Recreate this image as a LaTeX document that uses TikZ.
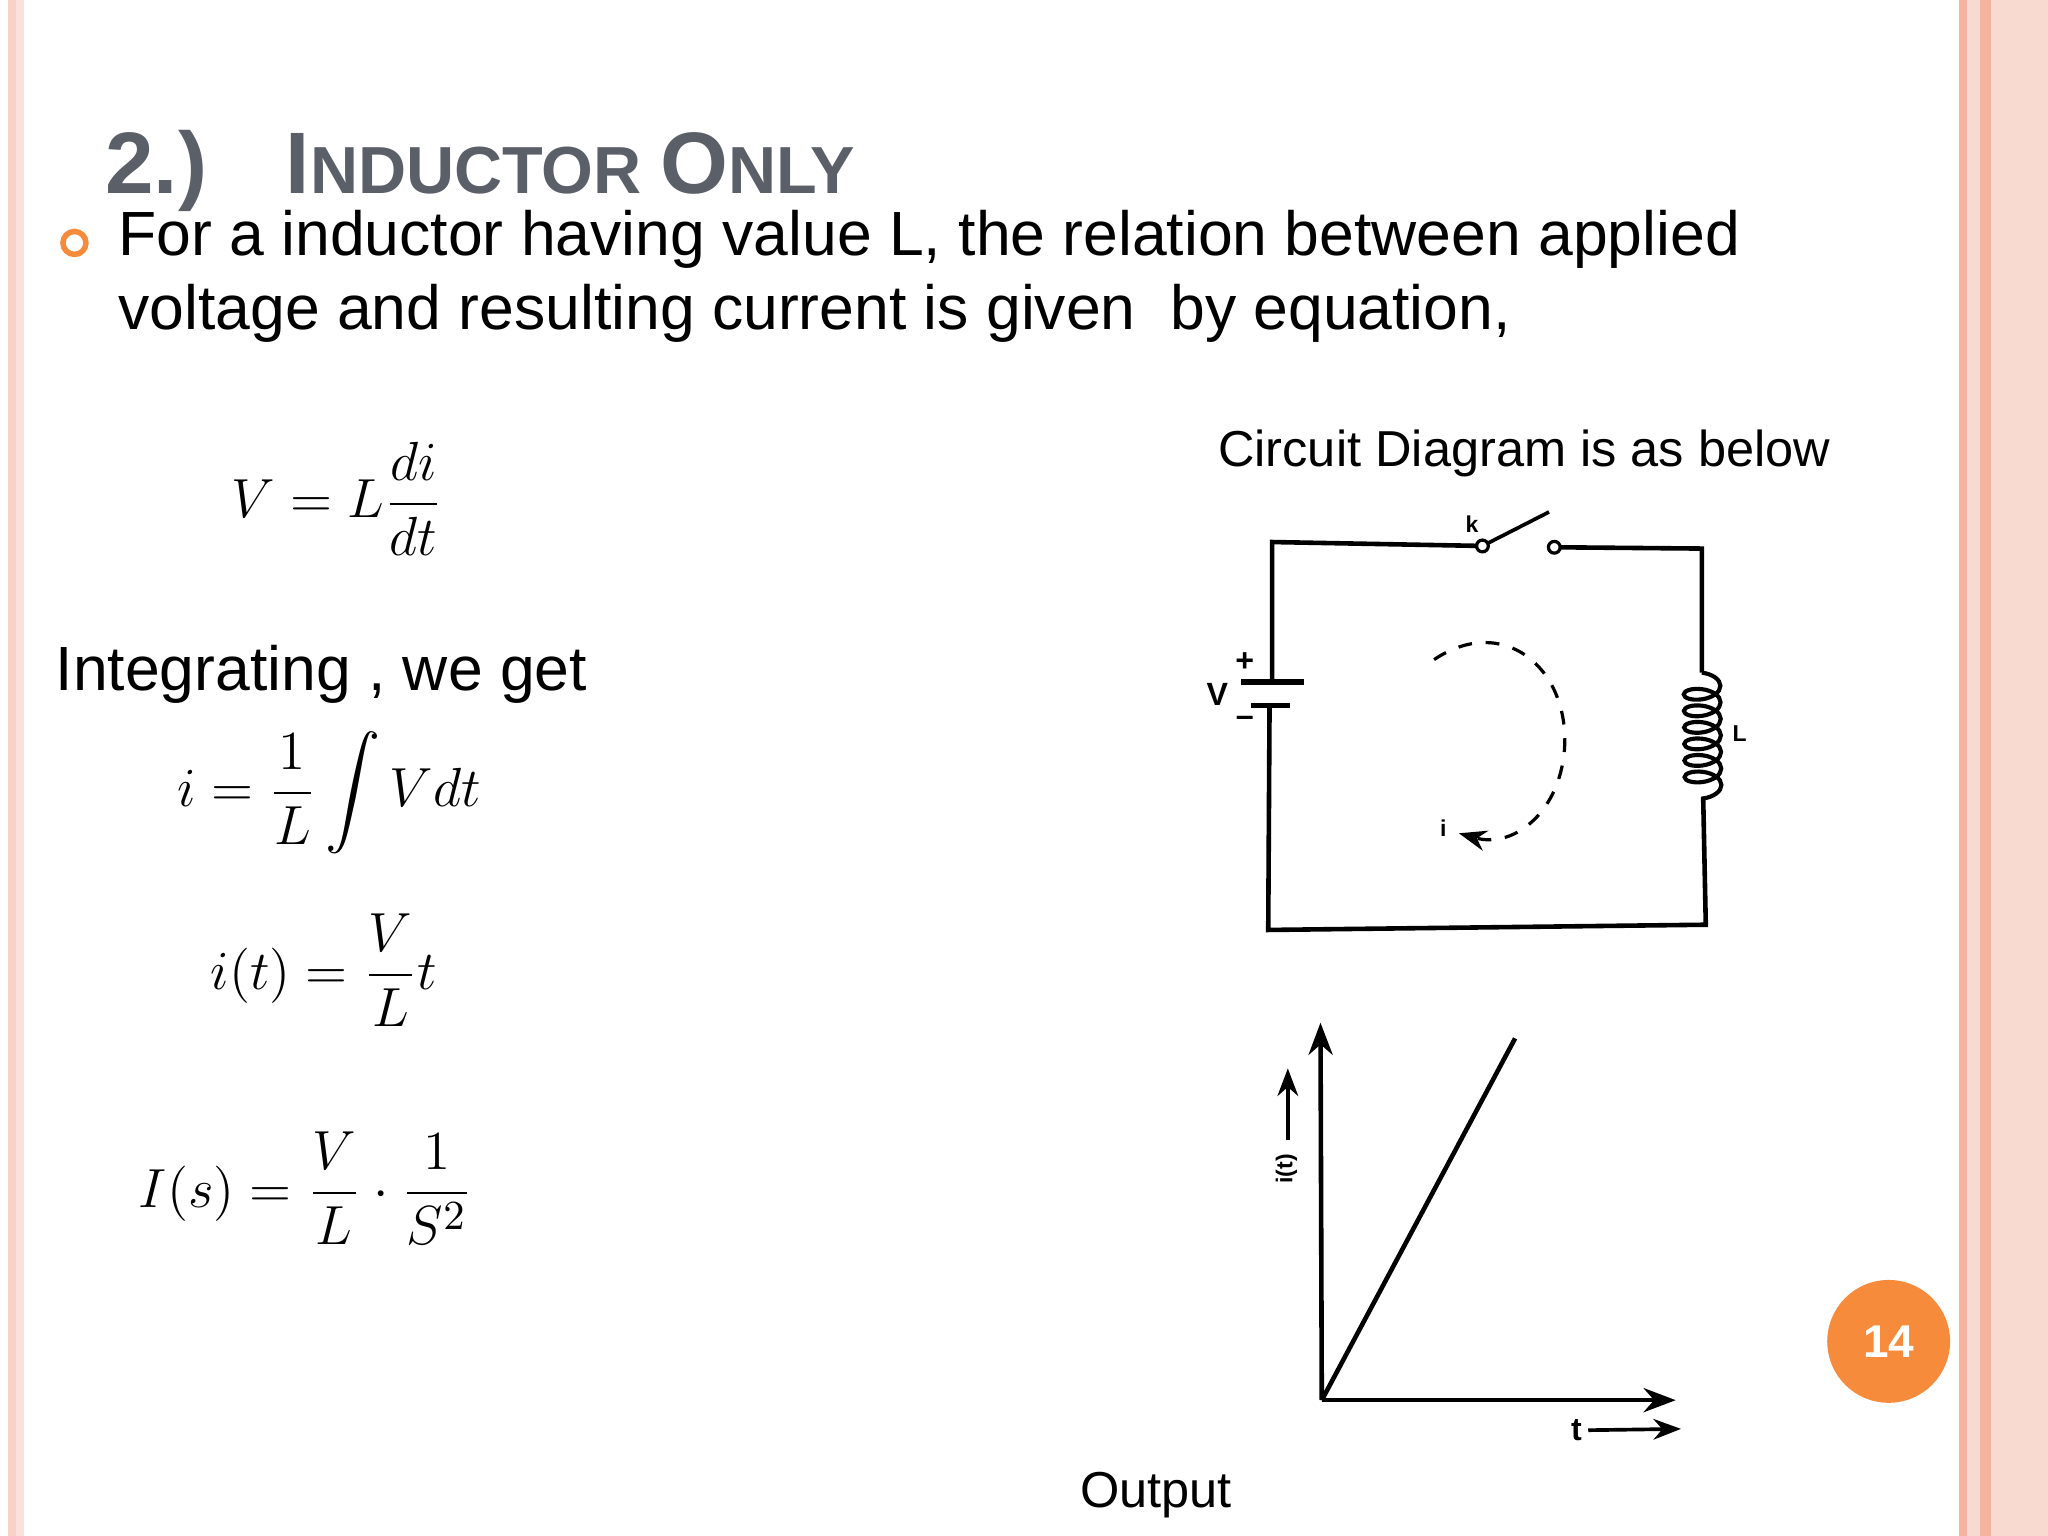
\documentclass[tikz,border=0pt]{standalone}
\usepackage{fontspec}
\setmainfont{Liberation Sans}
\usepackage{amsmath}
\usetikzlibrary{decorations.pathmorphing,arrows.meta}
\definecolor{pinkline}{HTML}{F4B4A0}
\definecolor{orng}{HTML}{F68B3C}
\definecolor{titlegray}{HTML}{5B5F68}
\tikzset{wire/.style={line width=1pt,black},
 body/.style={font=\fontsize{13.6}{16}\selectfont,anchor=west,inner sep=0},
 eq/.style={font=\fontsize{12.5}{15}\selectfont,inner sep=0}}
\begin{document}
\begin{tikzpicture}[x={(0.01cm,0)},y={(0,-0.01cm)}]
\useasboundingbox (0,0) rectangle (1568,1176);
\fill[white] (0,0) rectangle (1568,1176);
% borders
\fill[pinkline!60] (6,0) rectangle (12,1176);
\fill[pinkline!40] (12,0) rectangle (18,1176);
\fill[pinkline] (1500,0) rectangle (1506,1176);
\fill[pinkline!50] (1506,0) rectangle (1516,1176);
\fill[pinkline] (1516,0) rectangle (1524,1176);
\fill[pinkline!50] (1524,0) rectangle (1568,1176);
% title
\node[anchor=base west,inner sep=0,text=titlegray,font=\bfseries] (title) at (80,148)
 {\fontsize{19}{22}\selectfont 2.)\hspace{0.9em}I\fontsize{14.5}{17}\selectfont NDUCTOR \fontsize{19}{22}\selectfont O\fontsize{14.5}{17}\selectfont NLY};
\node[draw=orng,line width=1.2pt,circle,minimum size=5pt,inner sep=0] (bul) at (57,186) {};
\node[body] (l1) at (90,183) {For a inductor having value L, the relation between applied};
\node[body] (l2) at (90,240) {voltage and resulting current is given\ \ by equation,};
% equations
\node[eq] (e1) at (258,382) {$V = L\dfrac{di}{dt}$};
\node[body] (int) at (42,516) {Integrating , we get};
\node[eq] (e2) at (252,607) {$i = \dfrac{1}{L}\displaystyle\int Vdt$};
\node[eq] (e3) at (248,743) {$i(t) = \dfrac{V}{L}t$};
\node[eq] (e4) at (234,910) {$I(s) = \dfrac{V}{L}\cdot\dfrac{1}{S^2}$};
% circuit
\node[font=\fontsize{11}{13}\selectfont,inner sep=0] (cap) at (1167,347) {Circuit Diagram is as below};
\coordinate (tl) at (974,415); \coordinate (tr) at (1303,420);
\coordinate (bl) at (971,712); \coordinate (br) at (1306,708);
\coordinate (s1) at (1135,418); \coordinate (s2) at (1190,419);
\draw[wire] (974,520) -- (tl) -- (s1);
\draw[wire] (s2) -- (tr) -- (1303,515);
\draw[wire] (1304,610) -- (br) -- (bl) -- (972,540);
\draw[line width=0.8pt] (s1) -- (1186,392);
\draw[line width=0.7pt,fill=white] (s1) circle (4.5);
\draw[line width=0.7pt,fill=white] (s2) circle (4.5);
\node[font=\bfseries\tiny,inner sep=0] (k) at (1127,401) {k};
\draw[line width=1.2pt] (950,522) -- (998,522);
\draw[line width=1.2pt] (958,540) -- (988,540);
\node[font=\bfseries\scriptsize,inner sep=0] (pl) at (953,507) {+};
\node[font=\bfseries\scriptsize,inner sep=0] (mi) at (953,552) {--};
\node[font=\bfseries\scriptsize,inner sep=0] (vv) at (932,532) {V};
\draw[line width=0.9pt,decorate,decoration={coil,aspect=0.5,segment length=3.6pt,amplitude=4pt}] (1303,515) -- (1304,612);
\node[font=\bfseries\tiny,inner sep=0] (ll) at (1332,562) {L};
\draw[line width=0.7pt,dashed,-{Stealth[length=6pt]}] (1098,505) .. controls (1150,470) and (1200,510) .. (1198,570) .. controls (1196,620) and (1160,650) .. (1117,638);
\node[font=\bfseries\tiny,inner sep=0] (ii) at (1105,634) {i};
% graph
\coordinate (o) at (1012,1072);
\draw[line width=1pt,-{Stealth[length=7pt]}] (o) -- (1011,783);
\draw[line width=1pt,-{Stealth[length=7pt]}] (o) -- (1283,1072);
\draw[line width=1pt] (o) -- (1160,795);
\draw[line width=0.8pt,-{Stealth[length=6pt]}] (986,873) -- (986,818);
\node[font=\bfseries\tiny,rotate=90,inner sep=0] (it) at (985,895) {i(t)};
\node[font=\bfseries\scriptsize,inner sep=0] (tt) at (1207,1095) {t};
\draw[line width=0.8pt,-{Stealth[length=6pt]}] (1216,1095) -- (1287,1094);
\node[font=\fontsize{11}{13}\selectfont,inner sep=0] (out) at (885,1145) {Output};
% page number
\node[circle,fill=orng,inner sep=0,minimum size=0.94cm,text=white,font=\bfseries\fontsize{10}{12}\selectfont] (pg) at (1446,1027) {14};
\end{tikzpicture}
\end{document}
